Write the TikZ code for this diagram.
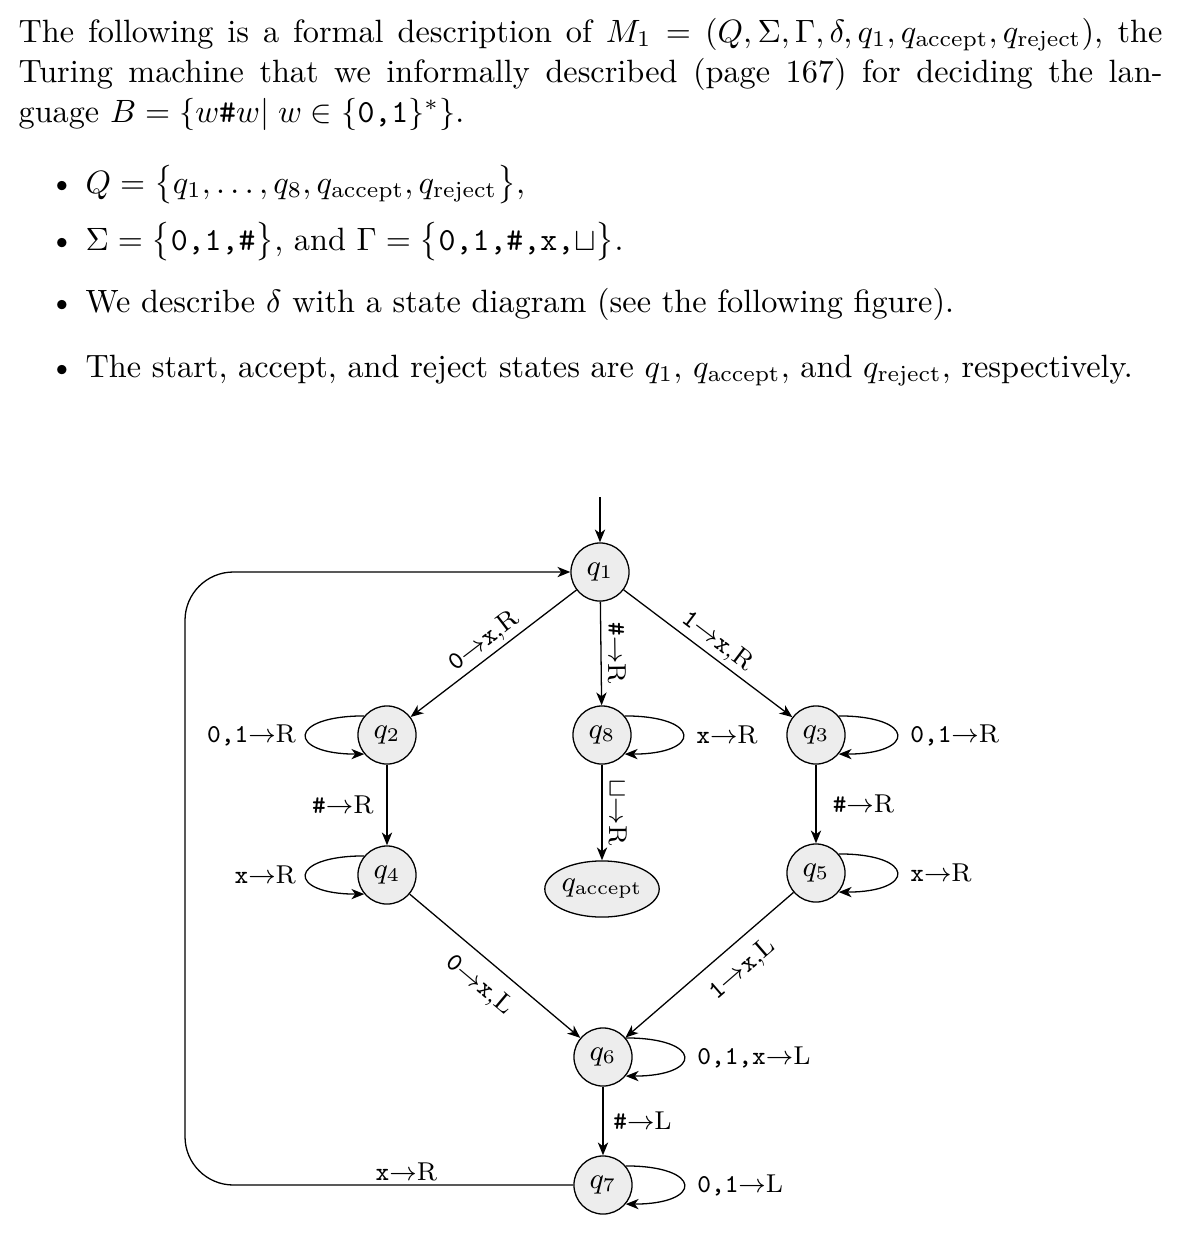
\documentclass[tikz,border=0pt]{standalone}
\usetikzlibrary{arrows.meta,shapes.geometric}
\newcommand{\myra}{$\rightarrow$}
\newcommand{\acc}{\mathrm{accept}}
\newcommand{\rej}{\mathrm{reject}}
\newcommand{\blank}{$\sqcup$}
\begin{document}
\begin{tikzpicture}[x=0.31pt,y=-0.31pt,
  state/.style={circle,draw,fill=black!7,minimum size=18pt,inner sep=0pt,font=\small},
  accstate/.style={ellipse,draw,fill=black!7,minimum width=33.2pt,minimum height=17.4pt,inner sep=0pt,font=\small},
  trans/.style={-{Stealth[length=4pt,width=3.2pt,inset=1.2pt]}},
  lbl/.style={font=\footnotesize,inner sep=1pt},
  txt/.style={anchor=base west,inner sep=0pt},
  bul/.style={anchor=base,inner sep=0pt},
]
\useasboundingbox (0,0) rectangle (1190,1234);

% ---------- text ----------
\node[txt] (l1) at (18,42) {\hbox to 354.6pt{The following is a formal description of $M_1=(Q,\Sigma,\Gamma,\delta,q_1,q_{\acc},q_{\rej})$, the}};
\node[txt] (l2) at (18,82) {\hbox to 354.6pt{Turing machine that we informally described (page 167) for deciding the lan-}};
\node[txt] (l3) at (18,122) {guage $B=\{w\texttt{\#}w|\; w\in\{\texttt{0,1}\}^*\}$.};

\node[bul] (b1) at (62,193) {\textbullet};
\node[txt] (i1) at (85,193) {$Q=\bigl\{q_1,\ldots,q_8,q_{\acc},q_{\rej}\bigr\}$,};
\node[bul] (b2) at (62,250) {\textbullet};
\node[txt] (i2) at (85,250) {$\Sigma=\bigl\{\texttt{0,1,\#}\bigr\}$, and $\Gamma=\bigl\{\texttt{0,1,\#,x,}\sqcup\bigr\}$.};
\node[bul] (b3) at (62,312) {\textbullet};
\node[txt] (i3) at (85,312) {We describe $\delta$ with a state diagram (see the following figure).};
\node[bul] (b4) at (62,377) {\textbullet};
\node[txt] (i4) at (85,377) {The start, accept, and reject states are $q_1$, $q_{\acc}$, and $q_{\rej}$, respectively.};

% ---------- states ----------
\node[state] (q1) at (600,572) {$q_1$};
\node[state] (q2) at (387,735) {$q_2$};
\node[state] (q8) at (602,735) {$q_8$};
\node[state] (q3) at (816,735) {$q_3$};
\node[state] (q4) at (387,875) {$q_4$};
\node[accstate] (qa) at (602,889) {$q_{\acc}$};
\node[state] (q5) at (816,873) {$q_5$};
\node[state] (q6) at (603,1057) {$q_6$};
\node[state] (q7) at (603,1185) {$q_7$};

\coordinate (start) at (600,497);
\coordinate (ret) at (185,0);

% ---------- transitions ----------
\draw[trans] (start) -- (q1);
\draw[trans] (q1) -- node[lbl,sloped,above]{\texttt{0}\myra\texttt{x},R} (q2);
\draw[trans] (q1) -- node[lbl,sloped,above]{\texttt{1}\myra\texttt{x},R} (q3);
\draw[trans] (q1) -- node[lbl,sloped,above,inner sep=2pt]{\texttt{\#}\myra R} (q8);
\draw[trans] (q8) -- node[lbl,sloped,above,inner sep=2pt]{\blank\myra R} (qa);
\draw[trans] (q2) -- node[lbl,left,inner sep=4pt]{\texttt{\#}\myra R} (q4);
\draw[trans] (q3) -- node[lbl,right,inner sep=5pt]{\texttt{\#}\myra R} (q5);
\draw[trans] (q4) -- node[lbl,sloped,below,inner sep=4pt]{\texttt{0}\myra\texttt{x},L} (q6);
\draw[trans] (q5) -- node[lbl,sloped,below,inner sep=4pt,pos=0.4]{\texttt{1}\myra\texttt{x},L} (q6);
\draw[trans] (q6) -- node[lbl,right,inner sep=3pt]{\texttt{\#}\myra L} (q7);
\draw[trans,rounded corners=15pt] (q7.west) -- node[lbl,above,pos=0.43]{\texttt{x}\myra R} (q7.west -| ret) |- (q1.west);

% ---------- loops ----------
\draw[trans] (q2.140) .. controls +(180:24pt) and +(180:24pt) .. node[lbl,left,inner sep=3pt]{\texttt{0,1}\myra R} (q2.220);
\draw[trans] (q4.140) .. controls +(180:24pt) and +(180:24pt) .. node[lbl,left,inner sep=3pt]{\texttt{x}\myra R} (q4.220);
\draw[trans] (q8.40) .. controls +(0:24pt) and +(0:24pt) .. node[lbl,right,inner sep=4pt]{\texttt{x}\myra R} (q8.-40);
\draw[trans] (q3.40) .. controls +(0:24pt) and +(0:24pt) .. node[lbl,right,inner sep=4pt]{\texttt{0,1}\myra R} (q3.-40);
\draw[trans] (q5.40) .. controls +(0:24pt) and +(0:24pt) .. node[lbl,right,inner sep=4pt]{\texttt{x}\myra R} (q5.-40);
\draw[trans] (q6.40) .. controls +(0:24pt) and +(0:24pt) .. node[lbl,right,inner sep=4pt]{\texttt{0,1,x}\myra L} (q6.-40);
\draw[trans] (q7.40) .. controls +(0:24pt) and +(0:24pt) .. node[lbl,right,inner sep=4pt]{\texttt{0,1}\myra L} (q7.-40);
\end{tikzpicture}
\end{document}
